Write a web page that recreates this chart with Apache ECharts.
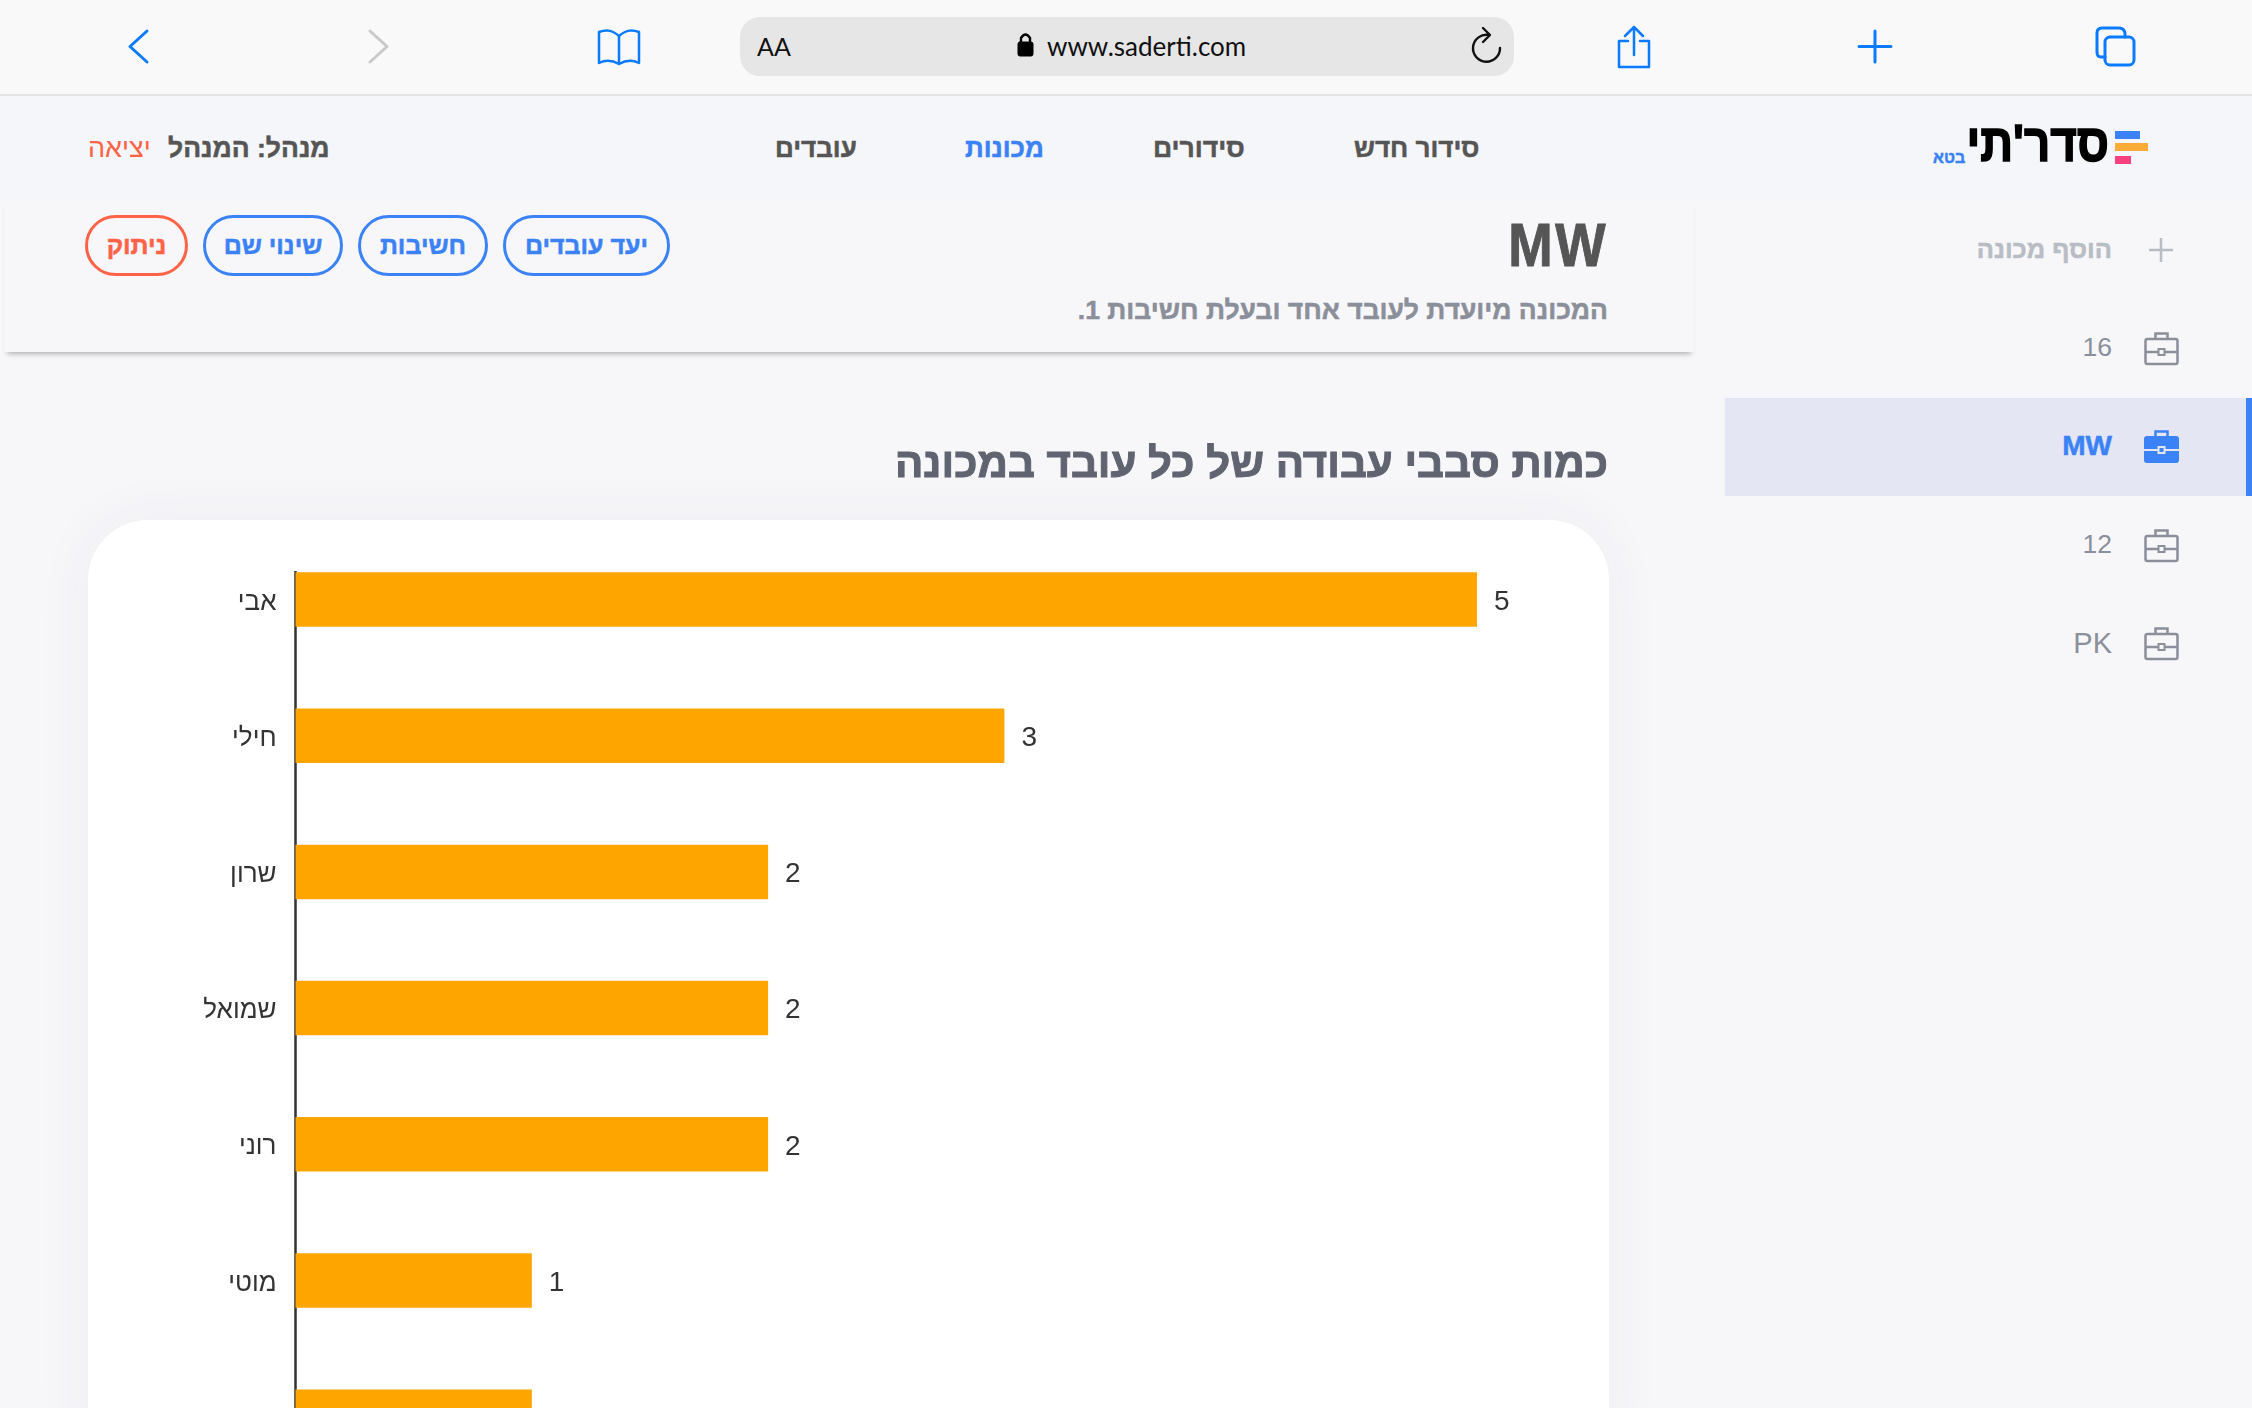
<!DOCTYPE html>
<html lang="he">
<head>
<meta charset="utf-8">
<title>MW</title>
<script src="https://cdn.jsdelivr.net/npm/echarts@6/dist/echarts.min.js"></script>
<style>
html, body { margin: 0; padding: 0; width: 2252px; height: 1408px; overflow: hidden; background: #f7f7fa; font-family: "Liberation Sans", sans-serif; }
.abs { position: absolute; white-space: nowrap; }
.t { position: absolute; white-space: nowrap; direction: rtl; line-height: 1; transform: translateY(-50%); }
.bold { font-weight: 700; -webkit-text-stroke: .5px currentColor; }
#browser { position: absolute; left: 0; top: 0; width: 2252px; height: 94px; background: #f9f9f9; border-bottom: 2px solid #e4e4e4; }
#pill { position: absolute; left: 740px; top: 17px; width: 774px; height: 59px; border-radius: 20px; background: #e6e6e6; }
#nav { position: absolute; left: 0; top: 96px; width: 2252px; height: 104px; background: #f4f6f9; }
#panel { position: absolute; left: 4px; top: 200px; width: 1690px; height: 152px; background: #f7f7fa; box-shadow: 0 5px 5px -3px rgba(0,0,0,.28); }
#card { position: absolute; left: 88px; top: 520px; width: 1521px; height: 960px; background: #fff; border-radius: 60px; box-shadow: 0 0 60px rgba(60,60,90,.05); }
#selrow { position: absolute; left: 1725px; top: 398px; width: 521px; height: 98px; background: #e4e7f3; border-right: 6px solid #3b82f6; }
.btn { position: absolute; top: 215px; height: 61px; box-sizing: border-box; border: 3px solid #3b82f6; border-radius: 31px; color: #3b82f6; font-weight: 700; font-size: 25px; line-height: 55px; text-align: center; direction: rtl; background: transparent; -webkit-text-stroke: .5px currentColor; }
.btn.red { border-color: #ff6347; color: #ff6347; }
#chart { position: absolute; left: 0; top: 0; width: 2252px; height: 1600px; }
svg { position: absolute; overflow: visible; }
</style>
</head>
<body>
<div id="browser"></div>
<div id="pill"></div>
<div class="abs" style="left:757px;top:46px;transform:translateY(-50%);font-family:'Lato';font-size:25px;color:#111;line-height:1;">AA</div>
<div class="abs" style="left:1047px;top:46px;transform:translateY(-50%);font-family:'Lato';font-size:26px;color:#111;line-height:1;">www.saderti.com</div>

<!-- browser icons -->
<svg style="left:0;top:0" width="2252" height="94" fill="none" stroke-linecap="round" stroke-linejoin="round">
  <path d="M147 31 L130 46.5 L147 62" stroke="#0a7aff" stroke-width="3"/>
  <path d="M370 31 L387 46.5 L370 62" stroke="#c9c9c9" stroke-width="3"/>
  <path d="M619 36 C611 29 605 30 599 32 L599 63 C605 60 612 60 619 64 C626 60 633 60 639 63 L639 32 C633 30 627 29 619 36 Z M619 36 L619 64" stroke="#0a7aff" stroke-width="2.5"/>
  <path d="M1634 28 L1634 55 M1625 36 L1634 27 L1643 36 M1628 41 L1619 41 L1619 67 L1649 67 L1649 41 L1640 41" stroke="#0a7aff" stroke-width="2.5"/>
  <path d="M1875 31 L1875 62 M1859 46.5 L1891 46.5" stroke="#0a7aff" stroke-width="3"/>
  <rect x="2105" y="37" width="29" height="28" rx="5" stroke="#0a7aff" stroke-width="3"/>
  <path d="M2105 57 L2101 57 Q2097 57 2097 52 L2097 33 Q2097 28 2102 28 L2119 28 Q2124 28 2125 33 L2125 37" stroke="#0a7aff" stroke-width="3"/>
  <rect x="1018" y="42" width="15" height="14" rx="2" fill="#000" stroke="#000"/>
  <path d="M1021 42 L1021 38 Q1025.5 31 1030 38 L1030 42" stroke="#000" stroke-width="2.4"/>
  <path d="M1489 35 A13.5 13.5 0 1 0 1500 48 M1483 28 L1490 35 L1483 42" stroke="#111" stroke-width="2.4"/>
</svg>

<div id="nav"></div>
<div class="t" style="left:88px;top:148px;font-size:27px;color:#ff6347;">יציאה</div>
<div class="t bold" style="left:168px;top:148px;font-size:26.5px;color:#555;">מנהל: המנהל</div>
<div class="t bold" style="left:775px;top:148px;font-size:26px;color:#555;">עובדים</div>
<div class="t bold" style="left:965px;top:148px;font-size:26px;color:#3b82f6;">מכונות</div>
<div class="t bold" style="left:1153px;top:148px;font-size:26.5px;color:#555;">סידורים</div>
<div class="t bold" style="left:1354px;top:148px;font-size:26px;color:#555;">סידור חדש</div>

<!-- logo -->
<div class="t bold" style="left:1933px;top:158px;font-size:16px;color:#3b82f6;">בטא</div>
<div class="t bold" style="right:143px;top:143px;font-size:52px;color:#000;-webkit-text-stroke:1.6px #000;transform:translateY(-50%) scaleX(.88);transform-origin:right center;">סדר'תי</div>
<svg style="left:0;top:0" width="2252" height="200">
  <rect x="2115" y="131" width="25" height="8" fill="#3b82f6"/>
  <rect x="2115" y="143" width="33" height="8" fill="#f8ab37"/>
  <rect x="2115" y="156" width="16" height="8" fill="#f9417e"/>
</svg>

<div id="panel"></div>
<div class="abs bold" style="right:644px;top:245px;font-size:62px;line-height:1;letter-spacing:3px;color:#555;-webkit-text-stroke:1px #555;transform:translateY(-50%) scaleX(.86);transform-origin:right center;">MW</div>
<div class="t bold" style="right:644px;top:310px;font-size:26.5px;color:#8a8f9a;">המכונה מיועדת לעובד אחד ובעלת חשיבות 1.</div>
<div class="btn red" style="left:85px;width:103px;">ניתוק</div>
<div class="btn" style="left:203px;width:140px;">שינוי שם</div>
<div class="btn" style="left:358px;width:130px;">חשיבות</div>
<div class="btn" style="left:503px;width:167px;">יעד עובדים</div>

<!-- sidebar -->
<div id="selrow"></div>
<div class="t bold" style="right:140px;top:250px;font-size:25.5px;color:#b8bcc4;">הוסף מכונה</div>
<div class="t" style="right:140px;top:347px;font-size:26.5px;color:#8a8f9a;">16</div>
<div class="t bold" style="right:140px;top:446px;font-size:28px;color:#3b82f6;">MW</div>
<div class="t" style="right:140px;top:544px;font-size:26.5px;color:#8a8f9a;">12</div>
<div class="t" style="right:140px;top:643px;font-size:29px;color:#8a8f9a;">PK</div>
<svg style="left:0;top:0" width="2252" height="700" fill="none">
  <path d="M2161 238 L2161 262 M2149 250 L2173 250" stroke="#b8bcc4" stroke-width="2.5"/>
  <defs>
    <g id="case">
      <rect x="1.5" y="7" width="32" height="25" rx="2" stroke="#8a8f9a" stroke-width="2.5"/>
      <path d="M11.5 7 L11.5 1.5 L23.5 1.5 L23.5 7 M1.5 20 L33.5 20" stroke="#8a8f9a" stroke-width="2.5"/>
      <rect x="14.5" y="17" width="6" height="6" fill="#f7f7fa" stroke="#8a8f9a" stroke-width="2"/>
    </g>
    <g id="casesel">
      <path d="M11.5 7 L11.5 1.5 L23.5 1.5 L23.5 7" stroke="#3b82f6" stroke-width="2.5"/>
      <rect x="0" y="6" width="35" height="27" rx="3" fill="#3b82f6"/>
      <path d="M0 20 L35 20" stroke="#e4e7f3" stroke-width="2"/>
      <rect x="14.5" y="17" width="6" height="6" fill="#3b82f6" stroke="#e4e7f3" stroke-width="2"/>
    </g>
  </defs>
  <use href="#case" x="2144" y="332"/>
  <use href="#casesel" x="2144" y="430"/>
  <use href="#case" x="2144" y="529"/>
  <use href="#case" x="2144" y="627"/>
</svg>

<div id="card"></div>
<div id="chart"></div>

<script>
// 7th name is below the fold in the picture, only its bar and value show
const categories = ['אבי', 'חילי', 'שרון', 'שמואל', 'רוני', 'מוטי', ''];
const shifts = [5, 3, 2, 2, 2, 1, 1];
const chartTitle = 'כמות סבבי עבודה של כל עובד במכונה';

const chart = echarts.init(document.getElementById('chart'));
chart.setOption({
    animation: false,
    title: {
        text: chartTitle,
        right: 643,
        top: 444,
        padding: 0,
        textStyle: {
            fontFamily: 'Liberation Sans', fontWeight: 700, fontSize: 42, color: '#5f6470',
            textBorderColor: '#5f6470', textBorderWidth: 1
        }
    },
    grid: { left: 295.5, top: 531.4, width: 1181.5, height: 953.4 },
    xAxis: { type: 'value', min: 0, max: 5, show: false },
    yAxis: {
        type: 'category',
        inverse: true,
        data: categories,
        axisLine: { show: false },
        axisTick: { show: false },
        axisLabel: {
            margin: 19,
            formatter: v => `{n|${v}}`,
            // top padding just to push the names down a little
            rich: { n: { padding: [6, 0, 0, 0], fontFamily: 'Liberation Sans', fontSize: 26, color: '#333' } }
        }
    },
    series: [{
        type: 'bar',
        data: shifts,
        barWidth: '40%',
        itemStyle: { color: '#ffa500' },
        label: { show: true, position: 'right', distance: 17, offset: [0, 2.5], fontFamily: 'Liberation Sans', fontSize: 28, color: '#333' }
    }],
    // the axis line only starts at the top of the first bar
    graphic: [{
        type: 'line',
        shape: { x1: 295.5, y1: 571, x2: 295.5, y2: 1500 },
        style: { stroke: '#333', lineWidth: 2.5 }
    }]
});
</script>
</body>
</html>
